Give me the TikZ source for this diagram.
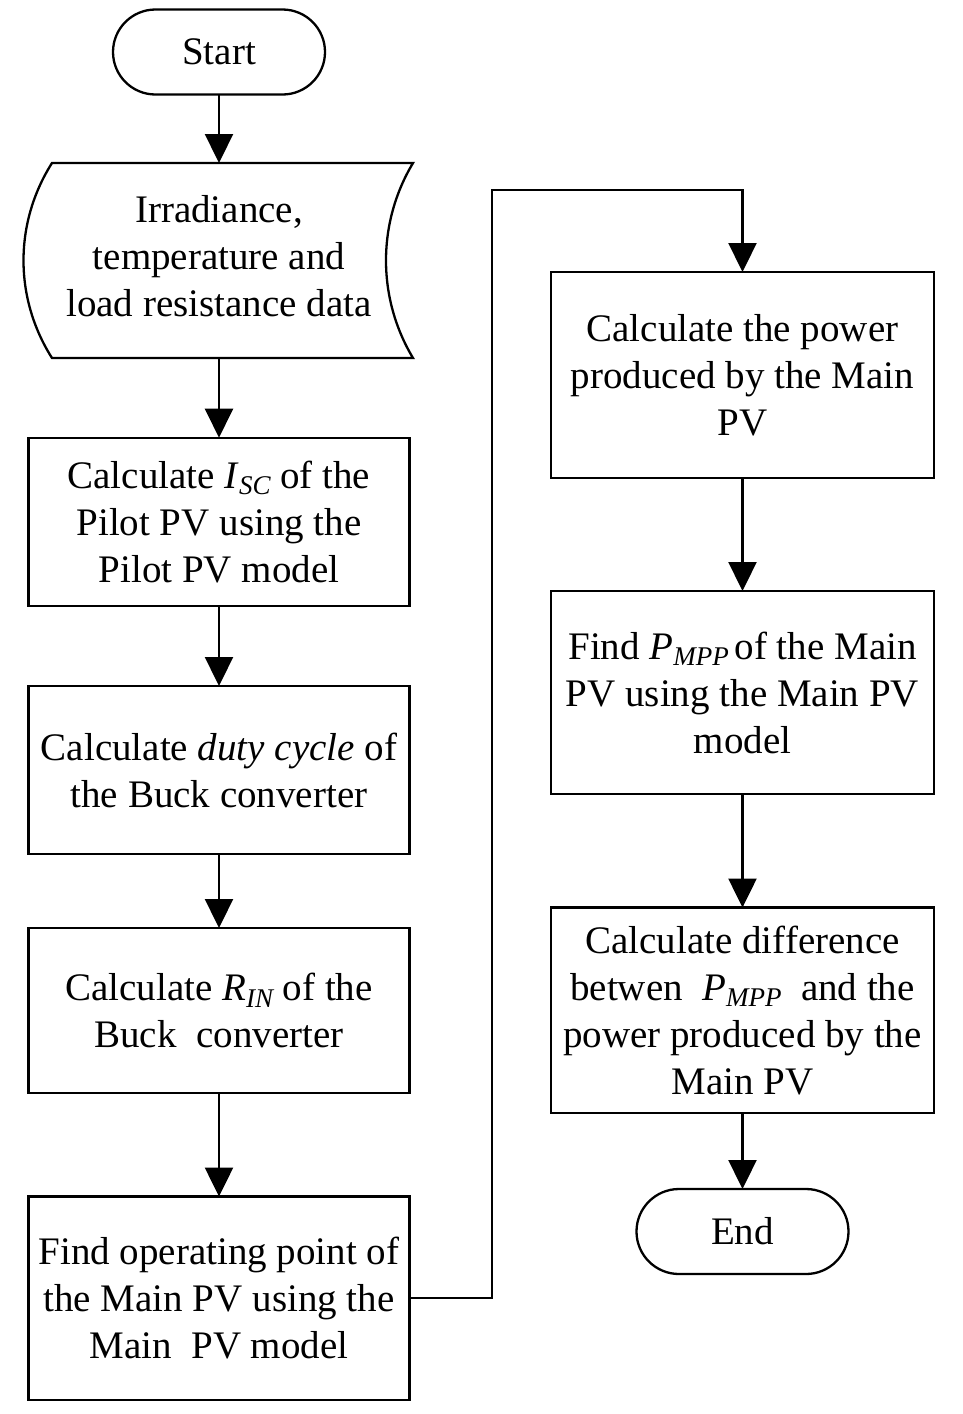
\documentclass[tikz,border=0pt]{standalone}
\usepackage{fontspec}
\setmainfont{Liberation Serif}
\usetikzlibrary{arrows.meta}
\newcommand{\sbx}[1]{\raisebox{-0.17em}{\fontsize{27pt}{27pt}\selectfont\itshape #1}}
\begin{document}
\begin{tikzpicture}[x=1pt,y=-1pt,
  every node/.style={font=\fontsize{39pt}{47pt}\selectfont, align=center, inner sep=0pt, outer sep=0pt},
  lbox/.style={draw, line width=2.3pt, minimum width=381pt},
  rbox/.style={draw, line width=2.3pt, minimum width=383pt},
  term/.style={draw, line width=2.3pt, minimum width=212pt, minimum height=85pt, rounded corners=42.5pt},
  flow/.style={line width=2.3pt, -{Triangle[width=28pt,length=29pt]}}
]
\useasboundingbox (0,0) rectangle (962,1414);
\fill[white] (0,0) rectangle (962,1414);

% left column
\node[term] (start) at (219,52) {Start};
\node[minimum width=388pt, minimum height=195pt] (data) at (219,260.5) {};
\draw[line width=2.3pt] (52,163) -- (413,163)
  .. controls (377,223) and (377,298) .. (413,358) -- (52,358)
  .. controls (14,298) and (14,223) .. cycle;
\node (datatxt) at (219,256) {Irradiance,\\temperature and\\load resistance data};
\node[lbox, minimum height=168pt] (b1) at (219,521.7)
  {Calculate \textit{I}\sbx{SC} of the\\Pilot PV using the\\Pilot PV model};
\node[lbox, minimum height=168pt] (b2) at (219,770)
  {Calculate \textit{duty cycle} of\\the Buck converter};
\node[lbox, minimum height=165pt] (b3) at (219,1010.5)
  {Calculate \textit{R}\sbx{IN} of the\\Buck\ \ converter};
\node[lbox, minimum height=203.5pt] (b4) at (219,1298.3)
  {Find operating point of\\the Main PV using the\\Main\ \ PV model};

% right column
\node[rbox, minimum height=206pt] (b5) at (742.5,375)
  {Calculate the power\\produced by the Main\\PV};
\node[rbox, minimum height=203pt] (b6) at (742.5,692.5)
  {Find \textit{P}\sbx{MPP}\hspace{-0.1em} of the Main\\PV using the Main PV\\model};
\node[rbox, minimum height=205.5pt] (b7) at (742.5,1010.3)
  {Calculate difference\\betwen \ \textit{P}\sbx{MPP} \ and the\\power produced by the\\Main PV};
\node[term] (end) at (742.5,1231.5) {End};

\coordinate (loop) at (491.7,190);

% connectors
\draw[flow] (start) -- (data);
\draw[flow] (data) -- (b1);
\draw[flow] (b1) -- (b2);
\draw[flow] (b2) -- (b3);
\draw[flow] (b3) -- (b4);
\draw[flow] (b4.east) -| (loop) -| (b5.north);
\draw[flow] (b5) -- (b6);
\draw[flow] (b6) -- (b7);
\draw[flow] (b7) -- (end);
\end{tikzpicture}
\end{document}
